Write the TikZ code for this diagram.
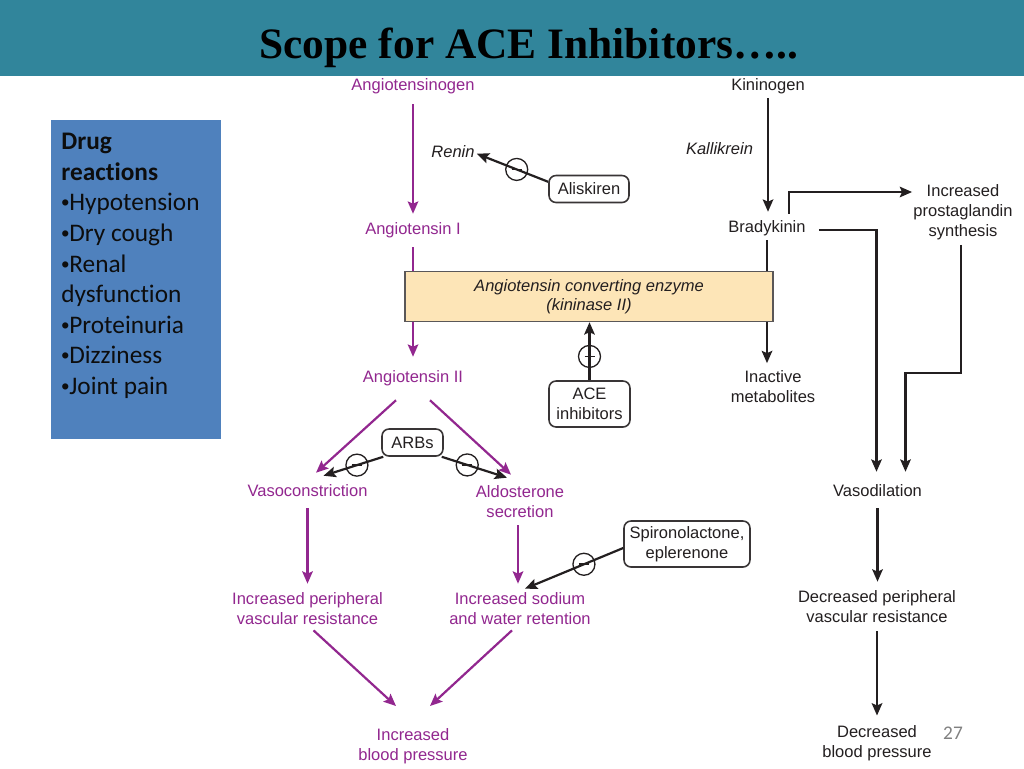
\documentclass[tikz,border=0pt]{standalone}
\usepackage{fontspec}
\setmainfont{Liberation Sans}
\newfontfamily\titlefont{Liberation Serif}
\newfontfamily\calfont[Ligatures=NoCommon]{Carlito}
\newfontfamily\bulfont{Liberation Sans}
\usetikzlibrary{arrows.meta,calc}
\definecolor{teal1}{RGB}{49,133,155}
\definecolor{pur}{RGB}{146,39,143}
\definecolor{ink}{RGB}{35,31,32}
\definecolor{boxblue}{RGB}{79,129,189}
\definecolor{peach}{RGB}{253,229,183}
\newcommand{\blt}{{\bulfont\fontsize{13}{13}\selectfont •}}
\begin{document}
\begin{tikzpicture}[x=0.02cm,y=-0.02cm,
 lbl/.style={font=\fontsize{9.4}{11.3}\selectfont, text=ink, inner sep=0pt, align=center},
 one/.style={lbl, text height=7pt, text depth=2pt},
 plbl/.style={lbl, text=pur},
 pone/.style={one, text=pur},
 drug/.style={draw=ink!90, line width=0.9pt, rounded corners=4pt, fill=white,
   font=\fontsize{9.4}{11.3}\selectfont, text=ink, align=center, inner sep=0pt},
 tip/.style={-{Stealth[length=7pt,width=6pt,inset=1.3pt]}},
 parr/.style={draw=pur, line width=1.25pt, tip},
 barr/.style={draw=ink, line width=1.25pt, tip},
 pline/.style={draw=pur, line width=1.25pt},
 bline/.style={draw=ink, line width=1.25pt},
 inh/.style={circle, draw=ink, line width=0.75pt, minimum size=0.44cm, inner sep=0pt},
 minus/.style={draw=ink, line width=1pt},
]
\fill[white] (0,0) rectangle (1024,768);
\useasboundingbox (0,0) rectangle (1024,768);
% title bar
\fill[teal1] (0,0) rectangle (1024,76);
\node[anchor=base, inner sep=0pt, font=\titlefont\bfseries\fontsize{24.7}{28}\selectfont, text=black] (title) at (529,58) {Scope for ACE Inhibitors…..};
% left box
\fill[boxblue] (51,120) rectangle (221,439);
\node[anchor=north west, inner sep=0pt, align=left, text=black!95,
  font=\calfont\fontsize{14.4}{17.4}\selectfont] (side) at (61,133)
  {\textbf{Drug}\\ \textbf{reactions}\\ \blt Hypotension\\ \blt Dry cough\\ \blt Renal\\ dysfunction\\ \blt Proteinuria\\ \blt Dizziness\\ \blt Joint pain};
% page number
\node[inner sep=0pt, font=\calfont\fontsize{11}{13}\selectfont, text=black!50] (pg) at (953,733) {27};

% nodes - angiotensin side
\node[pone] (agen) at (413,86) {Angiotensinogen};
\node[one, font=\fontsize{9.4}{11.3}\selectfont\itshape] (renin) at (453,153) {Renin};
\node[drug, minimum width=1.6cm, minimum height=0.54cm] (alisk) at (589,189) {Aliskiren};
\node[pone] (ang1) at (413,230) {Angiotensin I};
\node[draw=ink!75, line width=0.8pt, fill=peach, minimum width=7.36cm, minimum height=1.0cm,
  inner sep=0pt, align=center, text=ink, font=\fontsize{9.4}{10.8}\selectfont\itshape] (ace) at (589,296.5)
  {Angiotensin converting enzyme\\ (kininase II)};
\node[pone] (ang2) at (413,378) {Angiotensin II};
\node[drug, minimum width=1.62cm, minimum height=0.92cm] (aceinh) at (589.5,404) {ACE\\ inhibitors};
\node[drug, minimum width=1.22cm, minimum height=0.54cm] (arbs) at (412.5,442.5) {ARBs};
\node[pone] (vaso) at (307.5,492) {Vasoconstriction};
\node[plbl] (aldo) at (520,502) {Aldosterone\\ secretion};
\node[drug, minimum width=2.52cm, minimum height=0.92cm] (spiro) at (687,544) {Spironolactone,\\ eplerenone};
\node[plbl] (incpvr) at (307.5,609) {Increased peripheral\\ vascular resistance};
\node[plbl] (incsod) at (520,609) {Increased sodium\\ and water retention};
\node[plbl] (incbp) at (413,746) {Increased\\ blood pressure};

% kinin side
\node[one] (kin) at (768,86) {Kininogen};
\node[one, font=\fontsize{9.4}{11.3}\selectfont\itshape] (kall) at (719.5,150) {Kallikrein};
\node[one] (brady) at (767,228) {Bradykinin};
\node[lbl] (prost) at (963,212) {Increased\\ prostaglandin\\ synthesis};
\node[lbl] (inact) at (773,386.5) {Inactive\\ metabolites};
\node[one] (vasod) at (877.5,492) {Vasodilation};
\node[lbl] (decpvr) at (877,607) {Decreased peripheral\\ vascular resistance};
\node[lbl] (decbp) at (877,743.5) {Decreased\\ blood pressure};
\coordinate (pbend) at (905.5,373);

% purple main chain
\draw[parr, shorten <=0.2cm, shorten >=0.16cm] (agen.south) -- (ang1.north);
\draw[pline, shorten <=0.18cm] (ang1.south) -- (ang1.south |- ace.north);
\draw[parr, shorten >=0.26cm] (ace.south -| ang2) -- (ang2.north);
\draw[parr] ($(ang2.south)+(-17,14)$) -- ($(vaso.north)+(8.5,-11)$);
\draw[parr] ($(ang2.south)+(17,14)$) -- ($(aldo.north)+(-9,-11)$);
\draw[parr, shorten <=0.16cm, shorten >=0.18cm] (vaso.south) -- (vaso.south |- incpvr.north);
\draw[parr, shorten <=0.14cm, shorten >=0.18cm] ($(aldo.south)+(-2,0)$) -- ($(aldo.south |- incsod.north)+(-2,0)$);
\draw[parr] ($(incpvr.south)+(6,5)$) -- ($(incbp.north)+(-17,-22)$);
\draw[parr] ($(incsod.south)+(-8,5)$) -- ($(incbp.north)+(17,-22)$);

% inhibitions
\draw[barr, shorten >=0.04cm] (alisk.170) -- node[inh, pos=0.43] (c1) {} (renin.east);
\draw[minus] ($(c1.center)+(-5,0)$) -- ($(c1.center)+(5,0)$);
\draw[barr] (aceinh.north) -- node[inh, pos=0.41] (c2) {} (aceinh.north |- ace.south);
\draw[minus] ($(c2.center)+(-5,0)$) -- ($(c2.center)+(5,0)$);
\draw[barr] ($(arbs.south west)+(2,0)$) -- node[inh, pos=0.44] (c3) {} ($(vaso.north)+(16,-8)$);
\draw[minus] ($(c3.center)+(-5,0)$) -- ($(c3.center)+(5,0)$);
\draw[barr] ($(arbs.south east)+(-2,0)$) -- node[inh, pos=0.39] (c4) {} ($(aldo.north)+(-13,-8)$);
\draw[minus] ($(c4.center)+(-5,0)$) -- ($(c4.center)+(5,0)$);
\draw[barr] ($(spiro.west)+(0,4)$) -- node[inh, pos=0.4] (c5) {} ($(incsod.north)+(5,-4)$);
\draw[minus] ($(c5.center)+(-5,0)$) -- ($(c5.center)+(5,0)$);

% kinin chain
\draw[barr, shorten <=0.08cm, shorten >=0.16cm] (kin.south) -- (kin.south |- brady.north);
\draw[bline, shorten <=0.08cm] (brady.south) -- (brady.south |- ace.north);
\draw[barr, shorten >=0.14cm] (ace.south -| brady) -- (brady |- inact.north);
\draw[barr, shorten >=0.02cm] ($(brady.north east)+(-17,-6)$) |- ($(prost.west)+(0,-20)$);
\draw[barr] ($(brady.east)+(13,2)$) -| ($(vasod.north)+(-1,-12)$);
\draw[barr] ($(prost.south)+(-2,5)$) |- (pbend) -- ($(vasod.north)+(28,-12)$);
\draw[barr, shorten <=0.16cm, shorten >=0.18cm] (vasod.south) -- (vasod.south |- decpvr.north);
\draw[barr, shorten <=0.16cm, shorten >=0.2cm] (decpvr.south) -- (decpvr.south |- decbp.north);
\end{tikzpicture}
\end{document}
